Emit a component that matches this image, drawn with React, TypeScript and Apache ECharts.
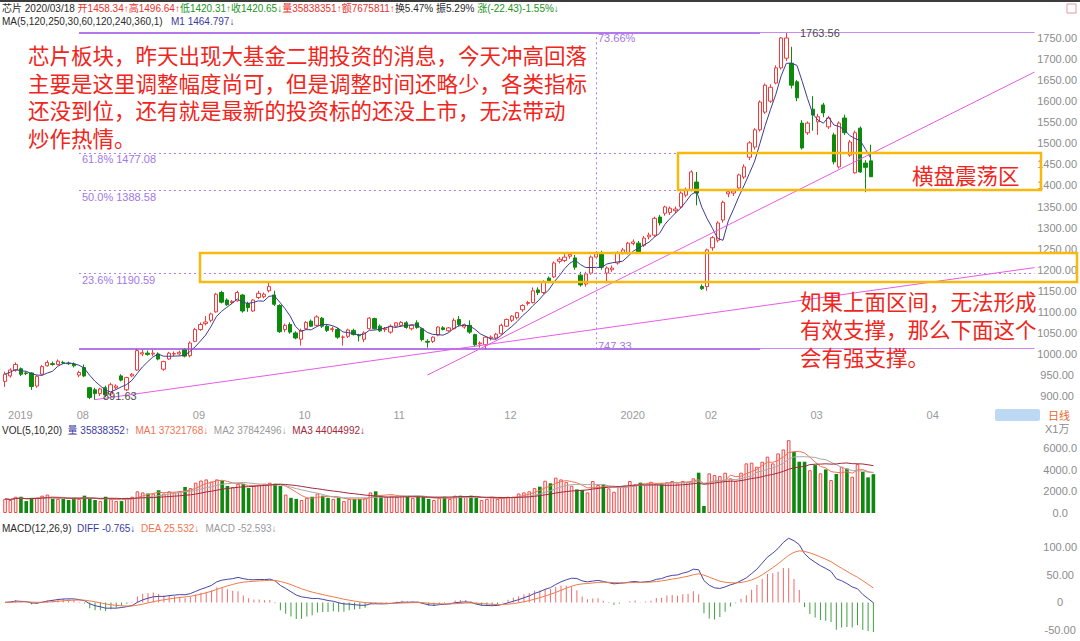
import React, { useEffect, useRef } from 'react';
import * as echarts from 'echarts';

// ---------- data ----------
const OPEN = [
  935, 948, 962, 965, 955, 955, 924, 952, 972, 977,
  975, 980, 978, 976, 950, 968, 920, 915, 906, 920,
  905, 920, 948, 915, 948, 962, 1000, 1002, 1000, 1000,
  964, 988, 1000, 1000, 1010, 996, 1030, 1058, 1072, 1080,
  1100, 1146, 1128, 1122, 1126, 1140, 1120, 1102, 1134, 1136,
  1150, 1140, 1115, 1058, 1070, 1050, 1035, 1060, 1078, 1068,
  1085, 1066, 1058, 1058, 1040, 1042, 1056, 1044, 1035, 1060,
  1084, 1066, 1058, 1052, 1066, 1068, 1074, 1060, 1074, 1060,
  1030, 1030, 1045, 1062, 1055, 1060, 1082, 1064, 1068, 1046,
  1024, 1022, 1038, 1038, 1048, 1066, 1080, 1086, 1105, 1120,
  1122, 1152, 1146, 1180, 1183, 1220, 1222, 1232, 1228, 1187,
  1166, 1192, 1230, 1240, 1192, 1200, 1216, 1240, 1240, 1262,
  1263, 1258, 1278, 1282, 1325, 1334, 1336, 1340, 1349, 1377,
  1389, 1408, 1160, 1160, 1252, 1270, 1318, 1380, 1382, 1394,
  1420, 1467, 1491, 1532, 1574, 1600, 1643, 1679, 1702, 1690,
  1646, 1548, 1525, 1581, 1551, 1591, 1539, 1520, 1444, 1560,
  1472, 1430, 1536, 1453, 1458.34,
];
const HIGH = [
  958, 966, 980, 968, 958, 957, 950, 974, 985, 982,
  987, 984, 982, 980, 960, 975, 922, 920, 920, 925,
  932, 928, 952, 946, 955, 1012, 1010, 1008, 1010, 1004,
  984, 1005, 1006, 1008, 1014, 1030, 1062, 1075, 1090, 1098,
  1145, 1150, 1132, 1128, 1150, 1142, 1124, 1130, 1150, 1146,
  1172, 1150, 1118, 1072, 1075, 1054, 1060, 1078, 1082, 1092,
  1088, 1070, 1065, 1062, 1044, 1060, 1060, 1048, 1054, 1088,
  1086, 1070, 1064, 1070, 1076, 1078, 1078, 1070, 1080, 1062,
  1035, 1042, 1066, 1066, 1064, 1085, 1090, 1072, 1080, 1048,
  1030, 1042, 1044, 1050, 1072, 1084, 1092, 1100, 1118, 1126,
  1158, 1158, 1175, 1184, 1220, 1230, 1240, 1242, 1235, 1195,
  1195, 1234, 1244, 1245, 1208, 1210, 1244, 1252, 1266, 1272,
  1268, 1280, 1288, 1326, 1330, 1352, 1350, 1350, 1386, 1395,
  1436, 1432, 1165, 1250, 1280, 1315, 1364, 1390, 1392, 1428,
  1450, 1505, 1536, 1602, 1642, 1640, 1685, 1752, 1763.56, 1729,
  1650, 1555, 1552, 1612, 1570, 1596, 1565, 1525, 1552, 1568,
  1508, 1530, 1540, 1460, 1496.64,
];
const LOW = [
  922, 944, 958, 948, 950, 915, 920, 950, 970, 972,
  973, 976, 974, 968, 945, 945, 893, 891.63, 900, 898,
  900, 916, 935, 912, 945, 960, 995, 996, 995, 985,
  960, 986, 995, 997, 992, 992, 1028, 1055, 1068, 1075,
  1098, 1120, 1114, 1118, 1124, 1098, 1100, 1100, 1130, 1132,
  1146, 1114, 1050, 1052, 1048, 1035, 1020, 1058, 1064, 1065,
  1062, 1052, 1052, 1036, 1020, 1038, 1044, 1030, 1028, 1058,
  1058, 1052, 1052, 1048, 1062, 1064, 1060, 1056, 1060, 1030,
  1015, 1026, 1042, 1056, 1052, 1058, 1066, 1060, 1048, 1018,
  1015, 1012, 1032, 1035, 1046, 1064, 1076, 1082, 1100, 1115,
  1120, 1140, 1142, 1168, 1180, 1215, 1218, 1226, 1200, 1160,
  1160, 1188, 1226, 1200, 1168, 1195, 1212, 1236, 1236, 1258,
  1238, 1254, 1272, 1278, 1305, 1328, 1330, 1334, 1345, 1372,
  1386, 1353, 1152, 1150, 1245, 1265, 1312, 1372, 1375, 1390,
  1415, 1460, 1485, 1528, 1570, 1596, 1640, 1675, 1695, 1630,
  1600, 1485, 1520, 1530, 1520, 1562, 1534, 1450, 1440, 1520,
  1468, 1428, 1430, 1384, 1420.31,
];
const CLOSE = [
  952, 962, 975, 952, 954, 923, 947, 970, 980, 975,
  983, 979, 977, 972, 956, 948, 897, 906, 917, 903,
  927, 924, 938, 944, 952, 1008, 1003, 999, 1002, 988,
  982, 1002, 1001, 1004, 995, 1026, 1058, 1070, 1076, 1095,
  1142, 1123, 1117, 1125, 1146, 1102, 1110, 1128, 1144, 1142,
  1160, 1118, 1053, 1068, 1052, 1038, 1056, 1075, 1066, 1088,
  1066, 1056, 1060, 1040, 1040, 1057, 1046, 1043, 1050, 1085,
  1060, 1055, 1060, 1066, 1074, 1075, 1063, 1068, 1063, 1034,
  1028, 1040, 1064, 1058, 1062, 1080, 1070, 1070, 1052, 1022,
  1026, 1040, 1040, 1047, 1068, 1082, 1090, 1098, 1115, 1122,
  1150, 1146, 1171, 1171, 1216, 1225, 1230, 1236, 1206, 1164,
  1190, 1230, 1238, 1206, 1204, 1204, 1240, 1247, 1263, 1266,
  1242, 1275, 1282, 1322, 1311, 1349, 1346, 1344, 1382, 1389,
  1432, 1382, 1155, 1247, 1276, 1311, 1360, 1385, 1387, 1425,
  1444, 1501, 1532, 1598, 1638, 1633, 1679, 1750, 1750, 1638,
  1608, 1489, 1548, 1567, 1563, 1572, 1560, 1456, 1548, 1525,
  1503, 1525, 1432, 1443, 1420.65,
];
// volume, unit: 万 (x10,000)
const VOLUME = [
  1300, 1200, 1500, 1500, 1100, 1400, 1400, 1600, 1700, 1300,
  1300, 1300, 1200, 1400, 1300, 1600, 1300, 1200, 1100, 1500,
  1300, 1100, 1100, 1400, 1500, 2000, 1900, 1800, 1800, 2100,
  1800, 2000, 1900, 2000, 2400, 2300, 2800, 3000, 3100, 2900,
  3100, 3000, 2500, 2400, 2700, 2700, 2300, 2500, 2600, 2700,
  2800, 2700, 2500, 1700, 1400, 1300, 1200, 1400, 1500, 1800,
  1600, 1400, 1300, 1400, 1100, 1300, 1300, 1300, 1400, 1900,
  2000, 1500, 1500, 1600, 1500, 1600, 1500, 1400, 1500, 1500,
  1300, 1200, 1400, 1500, 1300, 1600, 1600, 1500, 1600, 1400,
  1200, 1300, 1500, 1300, 1400, 1500, 1500, 1800, 1900, 2000,
  2300, 2430, 2980, 2740, 3260, 3100, 2880, 2520, 2180, 2120,
  1900, 2950, 2580, 2640, 2270, 1960, 2430, 2520, 2950, 2640,
  2800, 2580, 2880, 2730, 2730, 2830, 2950, 2730, 2950, 2880,
  3200, 3720, 650, 3660, 3500, 3410, 3720, 3200, 2950, 3720,
  4580, 4640, 4270, 4730, 5200, 4580, 5500, 5860, 6720, 5640,
  4730, 4730, 3950, 4420, 3660, 4020, 3040, 3600, 4270, 4110,
  3350, 4510, 3800, 3290, 3584,
];

const SLOTS = 196; // trading-day slots on the x axis (data + empty future)
const TICK_INDEX = [0, 13, 35, 55, 73, 94, 116, 132, 152, 174];
const TICK_TEXT = ['2019', '08', '09', '10', '11', '12', '2020', '02', '03', '04'];

const FIB_TOP = 1763.56;
const FIB_BOTTOM = 1013.6;
const FIB_LEVELS = [1477.08, 1388.58, 1190.59];
const FIB_START = 14;
const FIB_SPLIT = 143;
const FIB_END = 195;
const FIB_ANCHOR = 111.5;
const TREND_A = [[17, 891.63], [195, 1205]];
const TREND_B = [[80, 950], [195, 1669]];
const LAST_CLOSE = 1420.65;

// ---------- helpers ----------
const sma = (arr: number[], n: number) =>
  arr.map((_, i) => {
    const s = Math.max(0, i - n + 1);
    let sum = 0;
    for (let k = s; k <= i; k++) sum += arr[k];
    return +(sum / (i - s + 1)).toFixed(3);
  });
const ema = (arr: number[], n: number) => {
  const k = 2 / (n + 1);
  const out: number[] = [];
  arr.forEach((v, i) => out.push(i === 0 ? v : out[i - 1] * (1 - k) + v * k));
  return out;
};

const FONT = '"Liberation Sans", "Noto Sans CJK SC", sans-serif';
const CJK = '"Noto Sans CJK SC", "Noto Sans CJK JP", sans-serif';

function buildOption() {
  const cats = Array.from({ length: SLOTS }, (_, i) => String(i));
  const candles = OPEN.map((o, i) => [o, CLOSE[i], LOW[i], HIGH[i]]);
  const ma5 = sma(CLOSE, 5);
  const vma5 = sma(VOLUME, 5);
  const vma10 = sma(VOLUME, 10);
  const vma20 = sma(VOLUME, 20);
  const e12 = ema(CLOSE, 12);
  const e26 = ema(CLOSE, 26);
  const diff = e12.map((v, i) => v - e26[i]);
  const dea = ema(diff, 9);
  const macd = diff.map((v, i) => 2 * (v - dea[i]));

  const GL = 2.4;
  const GW = SLOTS * 5.3;
  const purple = '#9b4ae6';
  const purpleLight = '#c98af2';
  const dotted = { color: '#b07ee8', type: [2, 3] as any, width: 1 };
  const trend = { color: '#e65ce6', type: 'solid', width: 1 };

  const ml = (a: number[], b: number[], style: any) => [
    { coord: a, lineStyle: style },
    { coord: b },
  ];

  const xAxisBase = {
    type: 'category',
    data: cats,
    boundaryGap: true,
    axisLine: { show: false },
    axisTick: { show: false },
    splitLine: { show: false },
  };
  const yLabel = {
    color: '#8c8c8c',
    fontSize: 11,
    fontFamily: FONT,
    margin: 20,
    align: 'center',
    showMinLabel: false,
    showMaxLabel: false,
  };

  const rich = (parts: [string, string][], size = 10) => {
    const r: any = {};
    let text = '';
    parts.forEach(([t, c], i) => {
      r['s' + i] = { fill: c, fontSize: size, fontFamily: FONT };
      text += `{s${i}|${t}}`;
    });
    return { text, rich: r };
  };

  const dark = '#2a2a2a';
  const red = '#e8322d';
  const green = '#1a941a';
  const navy = '#3a3a9e';

  const header1 = rich([
    ['芯片 2020/03/18 ', dark],
    ['开1458.34↑高1496.64↑', red],
    ['低1420.31↑收1420.65↓', green],
    ['量35838351↑额7675811↑', red],
    ['换5.47% 振5.29% ', dark],
    ['涨(-22.43)-1.55%↓', green],
  ]);
  const header2 = rich([
    ['MA(5,120,250,30,60,120,240,360,1)   ', dark],
    ['M1 1464.797↓', navy],
  ]);
  const volHeader = rich([
    ['VOL(5,10,20)  ', dark],
    ['量 35838352↑  ', navy],
    ['MA1 37321768↓  ', '#f07352'],
    ['MA2 37842496↓  ', '#9a9a9a'],
    ['MA3 44044992↓', '#a3283a'],
  ]);
  const macdHeader = rich([
    ['MACD(12,26,9)  ', dark],
    ['DIFF -0.765↓  ', navy],
    ['DEA 25.532↓  ', '#f07352'],
    ['MACD -52.593↓', '#9a9a9a'],
  ]);

  const annRed = '#f0261c';
  const small = (text: string, x: number, y: number, fill: string) => ({
    type: 'text',
    z: 20,
    style: { text, x, y, fill, fontSize: 11, fontFamily: FONT, verticalAlign: 'middle' },
  });

  const graphic: any[] = [
    { type: 'rect', z: 20, shape: { x: 0, y: 0, width: 1080, height: 2 }, style: { fill: '#3c3c3c' } },
    { type: 'text', z: 20, style: { ...header1, x: 2, y: 8, verticalAlign: 'middle' } },
    { type: 'text', z: 20, style: { ...header2, x: 2, y: 21, verticalAlign: 'middle' } },
    { type: 'text', z: 20, style: { ...volHeader, x: 2, y: 430, verticalAlign: 'middle' } },
    { type: 'text', z: 20, style: { ...macdHeader, x: 2, y: 528, verticalAlign: 'middle' } },
    { type: 'rect', z: 20, shape: { x: 1067, y: 4, width: 9, height: 9 }, style: { fill: 'none', stroke: '#e39a9a', lineWidth: 1 } },
    // yellow boxes
    { type: 'rect', z: 15, shape: { x: 200, y: 253, width: 877, height: 29 }, style: { fill: 'none', stroke: '#f6b90c', lineWidth: 2.5 } },
    { type: 'rect', z: 15, shape: { x: 678, y: 153, width: 363, height: 37 }, style: { fill: 'none', stroke: '#f6b90c', lineWidth: 2.5 } },
    // red comments
    {
      type: 'text', z: 25,
      style: {
        text: '芯片板块，昨天出现大基金二期投资的消息，今天冲高回落\n主要是这里调整幅度尚可，但是调整时间还略少，各类指标\n还没到位，还有就是最新的投资标的还没上市，无法带动\n炒作热情。',
        x: 28, y: 41, fill: annRed, fontSize: 21.5, fontFamily: CJK, lineHeight: 27.5, verticalAlign: 'top',
      },
    },
    { type: 'text', z: 25, style: { text: '横盘震荡区', x: 912, y: 174, fill: annRed, fontSize: 21.5, fontFamily: CJK, verticalAlign: 'middle' } },
    {
      type: 'text', z: 25,
      style: {
        text: '如果上面区间，无法形成\n有效支撑，那么下面这个\n会有强支撑。',
        x: 800, y: 286, fill: annRed, fontSize: 21.5, fontFamily: CJK, lineHeight: 28, verticalAlign: 'top',
      },
    },
    small('1763.56', 800, 33, '#4a4a4a'),
    small('891.63', 103, 396, '#4a4a4a'),
    small('73.66%', 598, 38, '#a277e6'),
    small('747.33', 598, 346, '#a277e6'),
    small('61.8% 1477.08', 82, 159, '#a277e6'),
    small('50.0% 1388.58', 82, 197, '#a277e6'),
    small('23.6% 1190.59', 82, 280, '#a277e6'),
    { type: 'rect', z: 20, shape: { x: 995, y: 409, width: 45, height: 12, r: 2 }, style: { fill: '#bcd8f3' } },
    small('日线', 1048, 416, '#e8682e'),
    small('X1万', 1045, 429, '#8c8c8c'),
  ];

  return {
    animation: false,
    backgroundColor: '#ffffff',
    textStyle: { fontFamily: FONT },
    graphic,
    grid: [
      { left: GL, width: GW, top: 16.9, height: 400.3 },
      { left: GL, width: GW, top: 426.3, height: 86.7 },
      { left: GL, width: GW, top: 519.3, height: 138.5 },
    ],
    xAxis: [
      {
        ...xAxisBase,
        gridIndex: 0,
        axisLabel: {
          show: true,
          interval: (idx: number) => TICK_INDEX.includes(idx),
          formatter: (_v: string, idx: number) => TICK_TEXT[TICK_INDEX.indexOf(idx)] ?? '',
          align: 'left',
          padding: [0, 0, 0, 3],
          margin: -8,
          color: '#9a9a9a',
          fontSize: 11,
          fontFamily: FONT,
        },
      },
      { ...xAxisBase, gridIndex: 1, axisLabel: { show: false } },
      { ...xAxisBase, gridIndex: 2, axisLabel: { show: false } },
    ],
    yAxis: [
      {
        type: 'value', gridIndex: 0, position: 'right', min: 850, max: 1800, interval: 50,
        axisLine: { show: false }, axisTick: { show: false }, splitLine: { show: false },
        axisLabel: { ...yLabel, formatter: (v: number) => v.toFixed(2) },
      },
      {
        type: 'value', gridIndex: 1, position: 'right', min: 0, max: 8000, interval: 2000,
        axisLine: { show: false }, axisTick: { show: false }, splitLine: { show: false },
        axisLabel: { ...yLabel, showMinLabel: true, formatter: (v: number) => v.toFixed(1) },
      },
      {
        type: 'value', gridIndex: 2, position: 'right', min: -100, max: 150, interval: 50,
        axisLine: { show: false }, axisTick: { show: false }, splitLine: { show: false },
        axisLabel: { ...yLabel, formatter: (v: number) => (v === 0 ? '0' : v.toFixed(2)) },
      },
    ],
    series: [
      {
        type: 'candlestick',
        xAxisIndex: 0, yAxisIndex: 0,
        data: candles,
        barWidth: 3.8,
        itemStyle: {
          color: '#ffffff', color0: '#0c8a0c',
          borderColor: '#f03b3b', borderColor0: '#0c8a0c', borderWidth: 1,
        },
        markLine: {
          silent: true,
          symbol: ['none', 'none'],
          label: { show: false },
          data: [
            ml([FIB_START, FIB_TOP], [FIB_SPLIT, FIB_TOP], { color: purple, type: 'solid', width: 1.5 }),
            ml([FIB_SPLIT, FIB_TOP], [FIB_END, FIB_TOP], { color: purpleLight, type: 'solid', width: 1 }),
            ml([FIB_START, FIB_BOTTOM], [FIB_SPLIT, FIB_BOTTOM], { color: purple, type: 'solid', width: 1.5 }),
            ml([FIB_SPLIT, FIB_BOTTOM], [FIB_END, FIB_BOTTOM], { color: purpleLight, type: 'solid', width: 1 }),
            ...FIB_LEVELS.map((lv) => ml([FIB_START, lv], [FIB_END, lv], dotted)),
            ml([FIB_ANCHOR, FIB_TOP], [FIB_ANCHOR, FIB_BOTTOM], dotted),
            ml(TREND_A[0], TREND_A[1], trend),
            ml(TREND_B[0], TREND_B[1], trend),
            {
              yAxis: LAST_CLOSE,
              lineStyle: { opacity: 0, width: 0 },
              label: {
                show: true, position: 'end', distance: 2,
                formatter: LAST_CLOSE.toFixed(2), color: '#e8322d', fontSize: 11, fontFamily: FONT,
                backgroundColor: '#ffffff', padding: [0, 1],
              },
            },
          ],
        },
      },
      {
        type: 'line', xAxisIndex: 0, yAxisIndex: 0, data: ma5, symbol: 'none',
        lineStyle: { color: '#3d3d8f', width: 1 }, z: 3,
      },
      {
        type: 'bar', xAxisIndex: 1, yAxisIndex: 1, barWidth: 3.6,
        data: VOLUME.map((v, i) => ({
          value: v,
          itemStyle: CLOSE[i] >= OPEN[i]
            ? { color: '#fff3f3', borderColor: '#f04a4a', borderWidth: 1 }
            : { color: '#0e880e' },
        })),
      },
      { type: 'line', xAxisIndex: 1, yAxisIndex: 1, data: vma5, symbol: 'none', lineStyle: { color: '#f07352', width: 1 } },
      { type: 'line', xAxisIndex: 1, yAxisIndex: 1, data: vma10, symbol: 'none', lineStyle: { color: '#a8a8a8', width: 1 } },
      { type: 'line', xAxisIndex: 1, yAxisIndex: 1, data: vma20, symbol: 'none', lineStyle: { color: '#a3283a', width: 1 } },
      {
        type: 'bar', xAxisIndex: 2, yAxisIndex: 2, barWidth: 1,
        data: macd.map((v) => ({ value: +v.toFixed(3), itemStyle: { color: v >= 0 ? '#ef6a6a' : '#3f9f3f' } })),
      },
      { type: 'line', xAxisIndex: 2, yAxisIndex: 2, data: diff.map((v) => +v.toFixed(3)), symbol: 'none', lineStyle: { color: '#4646a6', width: 1 } },
      { type: 'line', xAxisIndex: 2, yAxisIndex: 2, data: dea.map((v) => +v.toFixed(3)), symbol: 'none', lineStyle: { color: '#f07a4a', width: 1 } },
    ],
  };
}

export default function App() {
  const ref = useRef<HTMLDivElement>(null);
  useEffect(() => {
    if (!ref.current) return;
    const chart = echarts.init(ref.current, null, { renderer: 'svg' });
    chart.setOption(buildOption() as any);
    return () => chart.dispose();
  }, []);
  // the chart box is a little taller than the 641px window so that the MACD
  // grid keeps its full scale; the part below the window is simply not seen.
  return (
    <div
      ref={ref}
      style={{ position: 'fixed', left: 0, top: 0, width: 1080, height: 680, background: '#ffffff' }}
    />
  );
}
